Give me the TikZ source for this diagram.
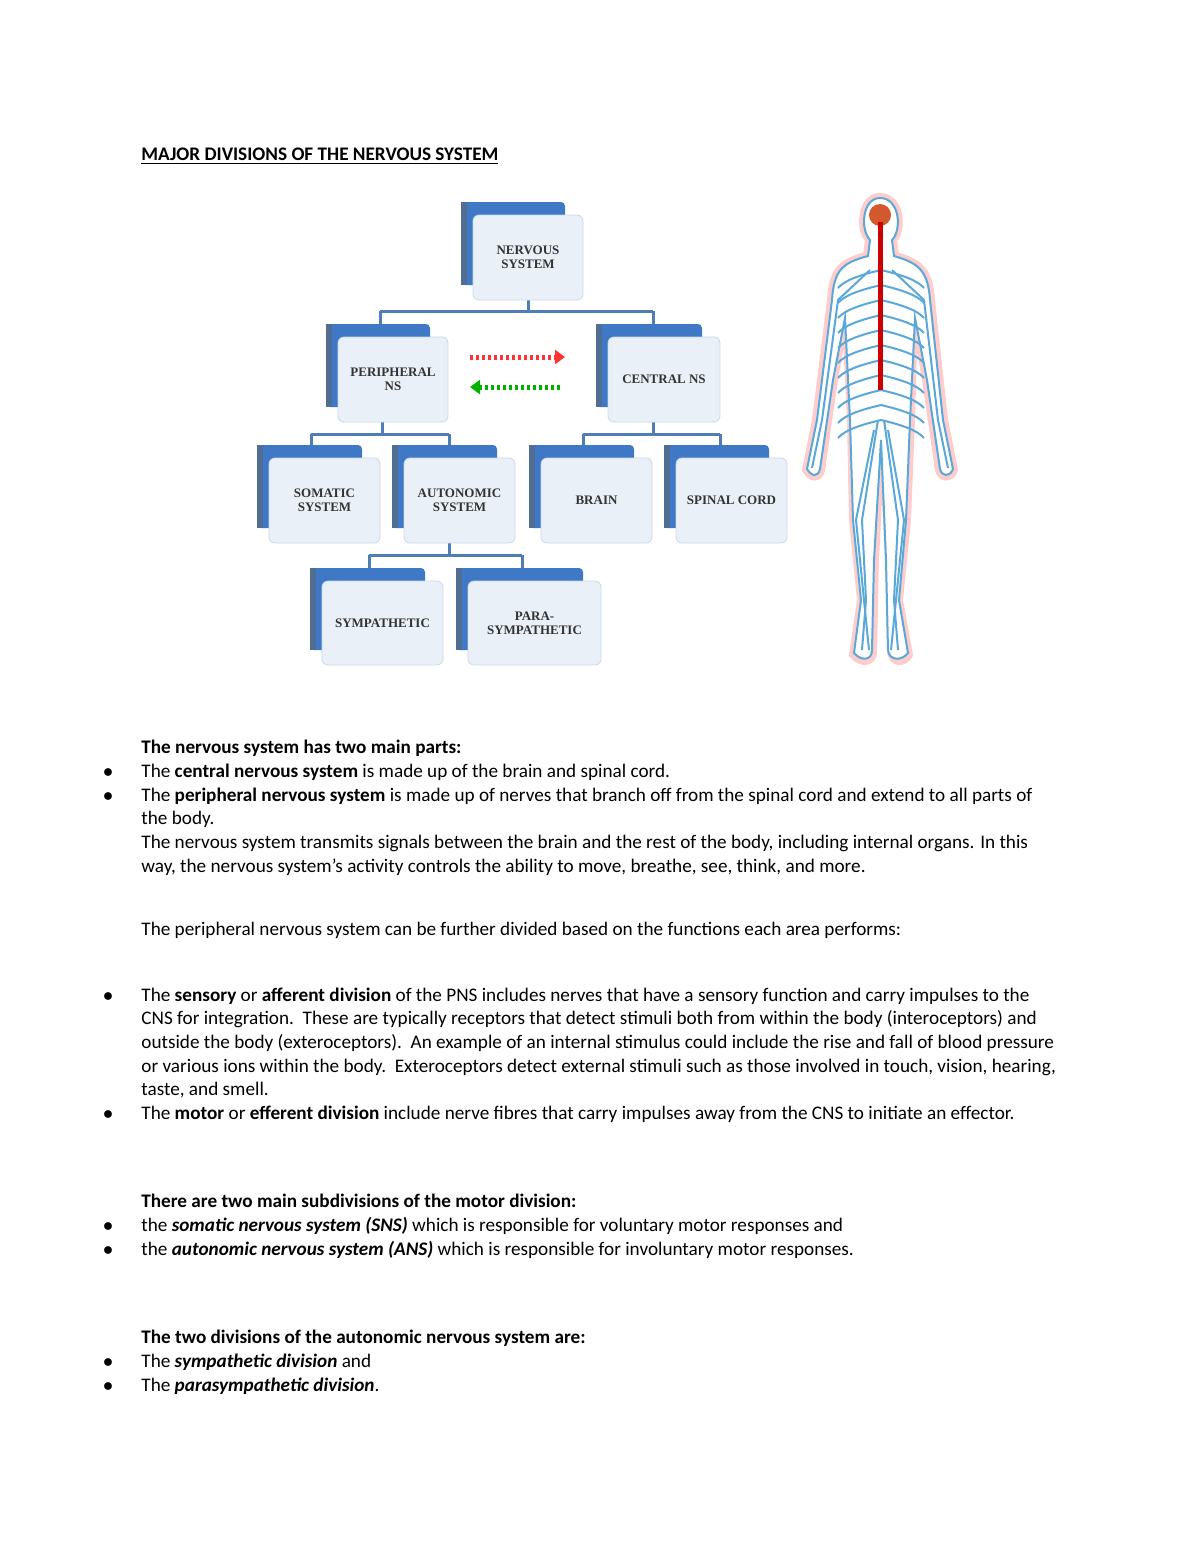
\documentclass[tikz,border=0pt]{standalone}
\usepackage{fontspec}
\setmainfont{Carlito}
\newfontfamily\boxfont{Liberation Serif}
\usetikzlibrary{arrows.meta}
\definecolor{bblue}{HTML}{3F78C4}
\definecolor{ffill}{HTML}{EAF0F8}
\definecolor{fline}{HTML}{C9D8EC}
\definecolor{cline}{HTML}{4F7DB8}
\definecolor{nerve}{HTML}{5AA8DA}
\tikzset{
 txt/.style={anchor=base west,inner sep=0pt,font=\fontsize{9.6}{12}\selectfont},
 bul/.style={anchor=base,inner sep=0pt,font=\fontsize{9.6}{12}\selectfont},
 lbl/.style={font=\boxfont\bfseries\fontsize{6.5}{7}\selectfont,align=center,text=black!80},
 conn/.style={draw=cline,line width=1.5pt},
}
\newcommand{\tbox}[6]{% name,x1,y1,x2,y2,text
 \fill[bblue,rounded corners=2pt] (#2-12,#3-13) rectangle (#4-18,#5-15);
 \fill[bblue!60!black!80] (#2-12,#3-13) rectangle (#2-6,#5-15);
 \filldraw[fill=ffill,draw=fline,rounded corners=3pt] (#2,#3) rectangle (#4,#5);
 \node[lbl] (#1) at ({(#2+#4)/2},{(#3+#5)/2}) {#6};
}
\begin{document}
\begin{tikzpicture}[x=0.5pt,y=-0.5pt]
\useasboundingbox (0,0) rectangle (1200,1553);
\node[txt,font=\fontsize{9.6}{12}\selectfont\bfseries] (title) at (141,160) {\underline{MAJOR DIVISIONS OF THE NERVOUS SYSTEM}};
% connectors
\draw[conn] (528,300) -- (528,311) (380,311) -- (653,311) (380,311) -- (380,324) (653,311) -- (653,324);
\draw[conn] (382,422) -- (382,434) (311,434) -- (449,434) (311,434) -- (311,445) (449,434) -- (449,445);
\draw[conn] (653,422) -- (653,434) (583,434) -- (720,434) (583,434) -- (583,445) (720,434) -- (720,445);
\draw[conn] (449,543) -- (449,555) (369,555) -- (522,555) (369,555) -- (369,568) (522,555) -- (522,568);
\tbox{ns}{473}{215}{583}{300}{NERVOUS\\SYSTEM}
\tbox{pns}{338}{337}{448}{422}{PERIPHERAL\\NS}
\tbox{cns}{608}{337}{720}{422}{CENTRAL NS}
\tbox{som}{269}{458}{380}{543}{SOMATIC\\SYSTEM}
\tbox{aut}{404}{458}{515}{543}{AUTONOMIC\\SYSTEM}
\tbox{brain}{541}{458}{652}{543}{BRAIN}
\tbox{spin}{676}{458}{787}{543}{SPINAL CORD}
\tbox{sym}{322}{581}{443}{665}{SYMPATHETIC}
\tbox{para}{468}{581}{601}{665}{PARA-\\SYMPATHETIC}
\coordinate (ra) at (470,357); \coordinate (rb) at (565,357);
\coordinate (ga) at (560,387); \coordinate (gb) at (470,387);
\draw[red!80,line width=2.5pt,dash pattern=on 1.5pt off 1.5pt,-{Triangle[length=5pt,width=7pt]}] (ra) -- (rb);
\draw[green!70!black,line width=2.5pt,dash pattern=on 1.5pt off 1.5pt,-{Triangle[length=5pt,width=7pt]}] (ga) -- (gb);
% body figure
\begin{scope}[draw=nerve,line width=1pt]
\draw[fill=white,draw=red!20,line width=3pt] (880,196) .. controls (860,196) and (858,230) .. (868,240) -- (866,255) .. controls (840,262) and (832,270) .. (830,300) -- (815,420) -- (805,470) .. controls (810,480) and (820,480) .. (822,470) -- (835,380) -- (845,320) -- (850,420) -- (852,520) -- (860,600) -- (852,655) .. controls (860,665) and (875,665) .. (874,650) -- (876,560) -- (882,440) -- (888,560) -- (890,650) .. controls (890,665) and (905,665) .. (910,655) -- (900,600) -- (908,520) -- (912,420) -- (915,320) -- (925,380) -- (938,470) .. controls (940,480) and (952,480) .. (955,470) -- (945,420) -- (932,300) .. controls (930,270) and (920,262) .. (896,255) -- (894,240) .. controls (904,230) and (902,196) .. (880,196) -- cycle;
\draw[fill=white] (880,198) .. controls (862,198) and (860,230) .. (870,240) -- (868,256) .. controls (842,263) and (834,270) .. (832,300) -- (817,420) -- (807,469) .. controls (812,477) and (818,477) .. (820,469) -- (833,380) -- (845,318) -- (850,420) -- (853,520) -- (861,600) -- (854,653) .. controls (861,661) and (872,661) .. (872,650) -- (874,560) -- (881,440) -- (886,560) -- (888,650) .. controls (889,661) and (902,661) .. (908,653) -- (899,600) -- (906,520) -- (910,420) -- (915,318) -- (927,380) -- (940,469) .. controls (942,477) and (950,477) .. (953,469) -- (943,420) -- (930,300) .. controls (928,270) and (918,263) .. (894,256) -- (892,240) .. controls (902,230) and (900,198) .. (880,198) -- cycle;
\foreach \y in {270,285,...,420} {
 \draw (881,\y) .. controls (860,\y+5) and (845,\y+10) .. (838,\y+18);
 \draw (881,\y) .. controls (902,\y+5) and (917,\y+10) .. (924,\y+18);
}
\draw (870,270) -- (838,300) -- (822,420) -- (812,468);
\draw (892,270) -- (924,300) -- (938,420) -- (948,468);
\draw (878,420) -- (862,520) -- (866,600) -- (862,650);
\draw (884,420) -- (898,520) -- (894,600) -- (898,650);
\draw (874,430) -- (856,520) -- (869,650);
\draw (888,430) -- (904,520) -- (891,650);
\fill[brown!70!red] (880,215) circle (11);
\draw[red!80!black,line width=2.5pt] (880,222) -- (880,390);
\end{scope}
% text
\node[txt,font=\fontsize{9.6}{12}\selectfont\bfseries] at (141,753) {The nervous system has two main parts:};
\node[bul] at (108,777) {$\bullet$};
\node[txt] at (141,777) {The \textbf{central nervous system} is made up of the brain and spinal cord.};
\node[bul] at (108,801) {$\bullet$};
\node[txt] at (141,801) {The \textbf{peripheral nervous system} is made up of nerves that branch off from the spinal cord and extend to all parts of};
\node[txt] at (141,824) {the body.};
\node[txt] at (141,848) {The nervous system transmits signals between the brain and the rest of the body, including internal organs. In this};
\node[txt] at (141,872) {way, the nervous system’s activity controls the ability to move, breathe, see, think, and more.};
\node[txt] at (141,935) {The peripheral nervous system can be further divided based on the functions each area performs:};
\node[bul] at (108,1001) {$\bullet$};
\node[txt] at (141,1001) {The \textbf{sensory} or \textbf{afferent division} of the PNS includes nerves that have a sensory function and carry impulses to the};
\node[txt] at (141,1024) {CNS for integration.\ \ These are typically receptors that detect stimuli both from within the body (interoceptors) and};
\node[txt] at (141,1048) {outside the body (exteroceptors).\ \ An example of an internal stimulus could include the rise and fall of blood pressure};
\node[txt] at (141,1072) {or various ions within the body.\ \ Exteroceptors detect external stimuli such as those involved in touch, vision, hearing,};
\node[txt] at (141,1095) {taste, and smell.};
\node[bul] at (108,1119) {$\bullet$};
\node[txt] at (141,1119) {The \textbf{motor} or \textbf{efferent division} include nerve fibres that carry impulses away from the CNS to initiate an effector.};
\node[txt,font=\fontsize{9.6}{12}\selectfont\bfseries] at (141,1207) {There are two main subdivisions of the motor division:};
\node[bul] at (108,1231) {$\bullet$};
\node[txt] at (141,1231) {the \textbf{\textit{somatic nervous system (SNS)}} which is responsible for voluntary motor responses and};
\node[bul] at (108,1255) {$\bullet$};
\node[txt] at (141,1255) {the \textbf{\textit{autonomic nervous system (ANS)}} which is responsible for involuntary motor responses.};
\node[txt,font=\fontsize{9.6}{12}\selectfont\bfseries] at (141,1343) {The two divisions of the autonomic nervous system are:};
\node[bul] at (108,1367) {$\bullet$};
\node[txt] at (141,1367) {The \textbf{\textit{sympathetic division}} and};
\node[bul] at (108,1391) {$\bullet$};
\node[txt] at (141,1391) {The \textbf{\textit{parasympathetic division}}.};
\end{tikzpicture}
\end{document}
